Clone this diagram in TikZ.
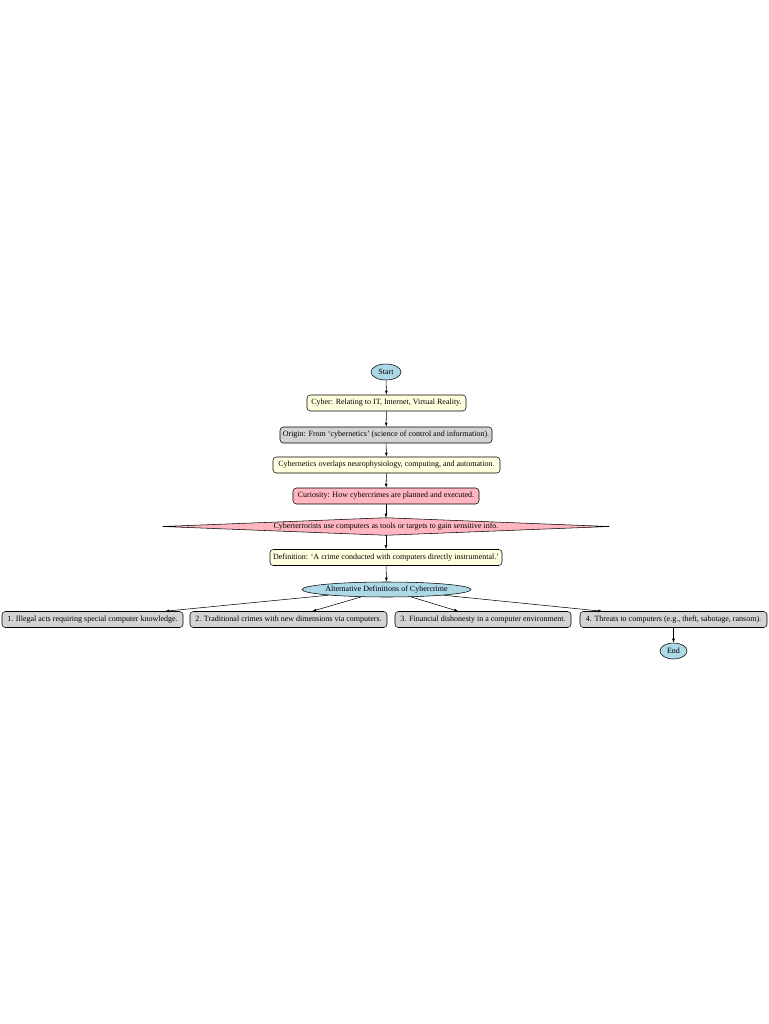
\documentclass[tikz,border=0pt]{standalone}
\usepackage{fontspec}
\setmainfont{Liberation Serif}
\usetikzlibrary{calc,arrows.meta,shapes.geometric}
\definecolor{lyellow}{HTML}{FFFFE0}
\definecolor{lgray}{HTML}{D3D3D3}
\definecolor{lpink}{HTML}{FFB6C1}
\definecolor{lblue}{HTML}{ADD8E6}
\tikzset{
  base/.style={draw=black, line width=0.4pt, font=\fontsize{6.0}{7}\selectfont, inner sep=0pt, minimum height=12pt},
  ybox/.style={base, rectangle, rounded corners=2.5pt, fill=lyellow},
  gbox/.style={base, rectangle, rounded corners=2.5pt, fill=lgray},
  pbox/.style={base, rectangle, rounded corners=2.5pt, fill=lpink},
  oval/.style={base, ellipse, fill=lblue},
  conn/.style={draw=black, line width=0.4pt, -{Latex[length=3pt,width=2.2pt]}},
}
\begin{document}
\begin{tikzpicture}[x=0.75pt,y=-0.75pt]
\useasboundingbox (0,0) rectangle (768,1024);
\node[oval, minimum width=30*0.75pt, minimum height=16*0.75pt] (start) at (386,372) {Start};
\node[ybox, minimum width=159*0.75pt] (cyber) at (386.5,403) {Cyber: Relating to IT, Internet, Virtual Reality.};
\node[gbox, minimum width=212*0.75pt] (origin) at (386,435) {Origin: From `cybernetics' (science of control and information).};
\node[ybox, minimum width=227*0.75pt] (cyb) at (386.5,465) {Cybernetics overlaps neurophysiology, computing, and automation.};
\node[pbox, minimum width=186*0.75pt] (cur) at (386,496) {Curiosity: How cybercrimes are planned and executed.};
\node[base, draw=none, minimum width=446*0.75pt, minimum height=17*0.75pt] (dia) at (386,526.5) {};
\filldraw[fill=lpink, draw=black, line width=0.4pt] (dia.west) -- (dia.north) -- (dia.east) -- (dia.south) -- cycle;
\node[base, draw=none] at (dia.center) {Cyberterrorists use computers as tools or targets to gain sensitive info.};
\node[ybox, minimum width=232*0.75pt] (def) at (386,557.5) {Definition: `A crime conducted with computers directly instrumental.'};
\node[oval, minimum width=169*0.75pt, minimum height=15*0.75pt] (alt) at (386.5,589.5) {\makebox[0pt]{Alternative Definitions of Cybercrime}};
\node[gbox, minimum width=181*0.75pt] (b1) at (92.5,619.5) {1. Illegal acts requiring special computer knowledge.};
\node[gbox, minimum width=197*0.75pt] (b2) at (288.5,619.5) {2. Traditional crimes with new dimensions via computers.};
\node[gbox, minimum width=176*0.75pt] (b3) at (483,619.5) {3. Financial dishonesty in a computer environment.};
\node[gbox, minimum width=187*0.75pt] (b4) at (673.5,619.5) {4. Threats to computers (e.g., theft, sabotage, ransom).};
\node[oval, minimum width=27*0.75pt, minimum height=16*0.75pt] (end) at (673.5,651) {End};
\coordinate (t1) at ($(b1.north west)!0.9!(b1.north east)$);
\coordinate (t2) at ($(b2.north west)!0.62!(b2.north east)$);
\coordinate (t3) at ($(b3.north west)!0.36!(b3.north east)$);
\coordinate (t4) at ($(b4.north west)!0.12!(b4.north east)$);
\draw[conn] (start) -- (cyber);
\draw[conn] (cyber) -- (origin);
\draw[conn] (origin) -- (cyb);
\draw[conn] (cyb) -- (cur);
\draw[conn] (cur) -- (dia.north);
\draw[conn] (dia.south) -- (def);
\draw[conn] (def) -- (alt);
\draw[conn] (alt) -- (t1);
\draw[conn] (alt) -- (t2);
\draw[conn] (alt) -- (t3);
\draw[conn] (alt) -- (t4);
\draw[conn] (b4) -- (end);
\end{tikzpicture}
\end{document}
